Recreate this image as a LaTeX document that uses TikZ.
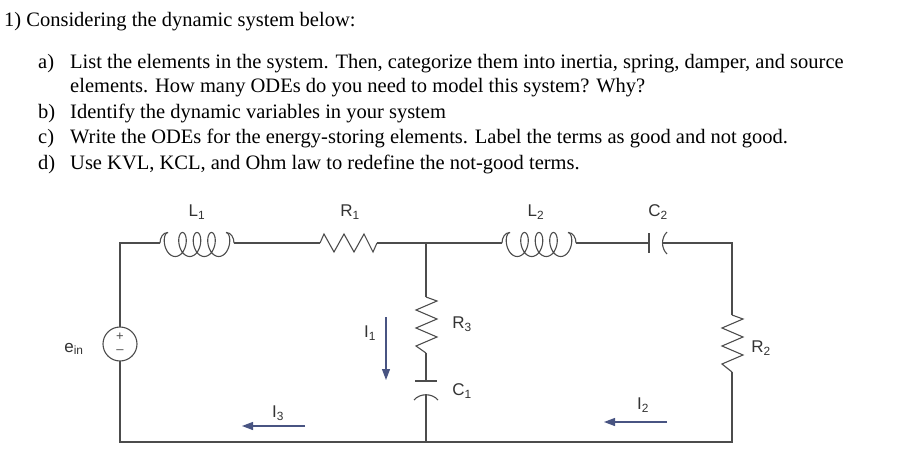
\documentclass[tikz,border=0pt]{standalone}
\usepackage{fontspec}
\setmainfont{Liberation Serif}
\newfontfamily\labfont{Liberation Sans}
\usetikzlibrary{arrows.meta}

\begin{document}
\begin{tikzpicture}[x=1pt,y=-1pt,
  wire/.style={draw=black!70,line width=1.1pt},
  curarrow/.style={draw=cyan!30!blue!60!black,line width=1.2pt,-{Triangle[length=11pt,width=8pt]}},
  txt/.style={anchor=base west,font=\fontsize{20.5}{22}\selectfont,inner sep=0pt},
  lab/.style={font=\labfont\fontsize{17}{18}\selectfont,text=black!80,inner sep=0pt}]
\useasboundingbox (0,0) rectangle (921,463);

% Question text
\node[txt] (q0) at (4,26) {1) Considering the dynamic system below:};
\node[txt] (qa) at (38,68) {a)};
\node[txt] (ta) at (70,68) {List the elements in the system. Then, categorize them into inertia, spring, damper, and source};
\node[txt] (ta2) at (70,92) {elements. How many ODEs do you need to model this system? Why?};
\node[txt] (qb) at (38,118) {b)};
\node[txt] (tb) at (70,118) {Identify the dynamic variables in your system};
\node[txt] (qc) at (38,143) {c)};
\node[txt] (tc) at (70,143) {Write the ODEs for the energy-storing elements. Label the terms as good and not good.};
\node[txt] (qd) at (38,169) {d)};
\node[txt] (td) at (70,169) {Use KVL, KCL, and Ohm law to redefine the not-good terms.};

% Wires
\draw[wire] (120,327) -- (120,243) -- (160,243);
\draw[wire] (234,243) -- (320,243);
\draw[wire] (377,243) -- (502,243);
\draw[wire] (576,243) -- (649,243);
\draw[wire] (663,243) -- (732,243) -- (732,315);
\draw[wire] (732,372) -- (732,442) -- (120,442) -- (120,361);
\draw[wire] (426,243) -- (426,297);
\draw[wire] (426,353) -- (426,381);
\draw[wire] (426,394) -- (426,442);

% Inductors
\foreach \xs in {160,502}{
  \draw[wire,shift={(\xs,0)}] plot[domain=0:1440,samples=200,smooth]
    ({8+\x/360*14.5-7*sin(\x)},{244.5-12*cos(\x)}) ;
  \draw[wire] (\xs,243) to[out=90,in=180] (\xs+8,232.5);
  \draw[wire] (\xs+66,232.5) to[out=0,in=90] (\xs+74,243);
}

% Resistors
\draw[wire] (320,243) -- (324,234) -- (334,252) -- (344,234) -- (354,252) -- (364,234) -- (373,252) -- (377,243);
\draw[wire] (426,297) -- (437,301) -- (416,310) -- (437,319) -- (416,328) -- (437,337) -- (416,346) -- (426,353);
\draw[wire] (732,315) -- (743,319) -- (722,328) -- (743,337) -- (722,346) -- (743,355) -- (722,364) -- (732,372);

% Capacitors
\draw[wire] (415,381) -- (437,381);
\draw[wire] (414,400) .. controls (420,393) and (432,393) .. (438,400);
\draw[wire] (649,233) -- (649,253);
\draw[wire] (667,232) .. controls (661,238) and (661,248) .. (667,254);

% Source
\draw[wire] (120,344) circle (17);
\node[lab,font=\labfont\fontsize{13}{13}\selectfont] (plus) at (120,337) {\textcolor{black!70}{+}};
\node[lab,font=\labfont\fontsize{13}{13}\selectfont] (minus) at (120,352) {\textcolor{black!70}{–}};

% Currents
\coordinate (i1s) at (386,317);
\coordinate (i1e) at (386,380);
\draw[curarrow] (i1s) -- (i1e);
\coordinate (i3s) at (305,426);
\coordinate (i3e) at (242,426);
\draw[curarrow] (i3s) -- (i3e);
\coordinate (i2s) at (667,422);
\coordinate (i2e) at (604,422);
\draw[curarrow] (i2s) -- (i2e);

% Labels
\node[lab] (lL1) at (197,212) {L\textsubscript{1}};
\node[lab] (lR1) at (350,212) {R\textsubscript{1}};
\node[lab] (lL2) at (536,212) {L\textsubscript{2}};
\node[lab] (lC2) at (658,212) {C\textsubscript{2}};
\node[lab] (lR3) at (462,324) {R\textsubscript{3}};
\node[lab] (lC1) at (462,391) {C\textsubscript{1}};
\node[lab] (lR2) at (761,348) {R\textsubscript{2}};
\node[lab] (lI1) at (370,333) {I\textsubscript{1}};
\node[lab] (lI3) at (278,413) {I\textsubscript{3}};
\node[lab] (lI2) at (643,405) {I\textsubscript{2}};
\node[lab] (lein) at (74,349) {e\textsubscript{in}};
\end{tikzpicture}
\end{document}
